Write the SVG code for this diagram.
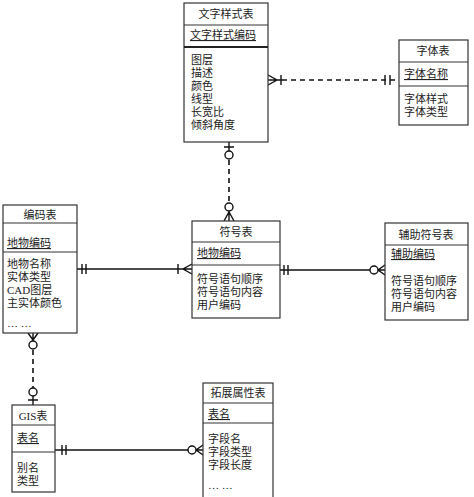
<svg xmlns="http://www.w3.org/2000/svg" width="474" height="497" viewBox="0 0 474 497">
<style>
.box{fill:#fff;stroke:#333;stroke-width:1.2}
.sep{stroke:#333;stroke-width:1}
.thk{stroke:#222;stroke-width:2}
text{font-family:"Liberation Serif","Noto Sans CJK SC",serif;font-size:11px;fill:#222}
.h{text-anchor:middle}
.k{text-decoration:underline}
.ln{stroke:#111;stroke-width:1.4;fill:none}
.dash{stroke:#111;stroke-width:1.6;fill:none;stroke-dasharray:5,4}
.c{fill:#fff;stroke:#111;stroke-width:1.4}
</style>
<rect width="474" height="497" fill="#fff"/>
<g id="connectors">
  <path class="dash" d="M282,80 H399"/>
  <path class="ln" d="M268,75 L277,80 L268,85 M268,80 H282 M281,75 V85 M385,75 V85 M390,75 V85"/>
  <path class="dash" d="M229,160 V203"/>
  <path class="ln" d="M229,142 V151 M224,147 H234 M224,221 L229,212 L234,221 M229,211 V221"/>
  <circle class="c" cx="229" cy="155" r="4"/>
  <circle class="c" cx="229" cy="207" r="4"/>
  <path class="ln" d="M77,269 H192 M82,264 V274 M86,264 V274 M178,264 V274 M192,264 L183,269 L192,274"/>
  <path class="ln" d="M280,270 H370 M284,265 V275 M288,265 V275 M385,265 L378,270 L385,275 M378,270 H385"/>
  <circle class="c" cx="374" cy="270" r="4"/>
  <path class="dash" d="M33,350 V388"/>
  <path class="ln" d="M28,333 L33,340 L38,333 M33,333 V341 M33,396 V405 M28,400 H38"/>
  <circle class="c" cx="33" cy="345" r="4"/>
  <circle class="c" cx="33" cy="392" r="4"/>
  <path class="ln" d="M55,450 H188 M62,445 V455 M66,445 V455 M203,445 L196,450 L203,455 M196,450 H203"/>
  <circle class="c" cx="192" cy="450" r="4"/>
</g>
<g id="wenzi">
  <rect class="box" x="184" y="3" width="84" height="139"/>
  <line class="sep" x1="184" y1="25" x2="268" y2="25"/>
  <line class="thk" x1="184" y1="47" x2="268" y2="47"/>
  <text class="h" x="226" y="18">文字样式表</text>
  <text class="k" x="190" y="39">文字样式编码</text>
  <text x="191" y="64">图层</text>
  <text x="191" y="77">描述</text>
  <text x="191" y="90">颜色</text>
  <text x="191" y="103">线型</text>
  <text x="191" y="116">长宽比</text>
  <text x="191" y="129">倾斜角度</text>
</g>
<g id="ziti">
  <rect class="box" x="399" y="40" width="69" height="85"/>
  <line class="sep" x1="399" y1="62" x2="468" y2="62"/>
  <line class="sep" x1="399" y1="86" x2="468" y2="86"/>
  <text class="h" x="433" y="55">字体表</text>
  <text class="k" x="404" y="78">字体名称</text>
  <text x="404" y="103">字体样式</text>
  <text x="404" y="116">字体类型</text>
</g>
<g id="bianma">
  <rect class="box" x="3" y="205" width="74" height="128"/>
  <line class="sep" x1="3" y1="223" x2="77" y2="223"/>
  <line class="sep" x1="3" y1="252" x2="77" y2="252"/>
  <text class="h" x="40" y="219">编码表</text>
  <text class="k" x="7" y="247">地物编码</text>
  <text x="7" y="268">地物名称</text>
  <text x="7" y="281">实体类型</text>
  <text x="7" y="294">CAD图层</text>
  <text x="7" y="307">主实体颜色</text>
  <text x="7" y="327">… …</text>
</g>
<g id="fuhao">
  <rect class="box" x="192" y="221" width="88" height="97"/>
  <line class="sep" x1="192" y1="242" x2="280" y2="242"/>
  <line class="sep" x1="192" y1="265" x2="280" y2="265"/>
  <text class="h" x="236" y="236">符号表</text>
  <text class="k" x="197" y="257">地物编码</text>
  <text x="197" y="283">符号语句顺序</text>
  <text x="197" y="296">符号语句内容</text>
  <text x="197" y="309">用户编码</text>
</g>
<g id="fuzhu">
  <rect class="box" x="385" y="223" width="83" height="97"/>
  <line class="sep" x1="385" y1="245" x2="468" y2="245"/>
  <text class="h" x="426" y="239">辅助符号表</text>
  <text class="k" x="391" y="258">辅助编码</text>
  <text x="391" y="285">符号语句顺序</text>
  <text x="391" y="298">符号语句内容</text>
  <text x="391" y="311">用户编码</text>
</g>
<g id="gis">
  <rect class="box" x="12" y="405" width="43" height="87"/>
  <line class="sep" x1="12" y1="425" x2="55" y2="425"/>
  <line class="sep" x1="12" y1="452" x2="55" y2="452"/>
  <text class="h" x="33" y="420">GIS表</text>
  <text class="k" x="17" y="442">表名</text>
  <text x="17" y="472">别名</text>
  <text x="17" y="485">类型</text>
</g>
<g id="tuozhan">
  <rect class="box" x="203" y="383" width="70" height="116"/>
  <line class="sep" x1="203" y1="403" x2="273" y2="403"/>
  <line class="sep" x1="203" y1="423" x2="273" y2="423"/>
  <text class="h" x="238" y="397">拓展属性表</text>
  <text class="k" x="208" y="418">表名</text>
  <text x="208" y="443">字段名</text>
  <text x="208" y="456">字段类型</text>
  <text x="208" y="469">字段长度</text>
  <text x="208" y="489">… …</text>
</g>
</svg>
